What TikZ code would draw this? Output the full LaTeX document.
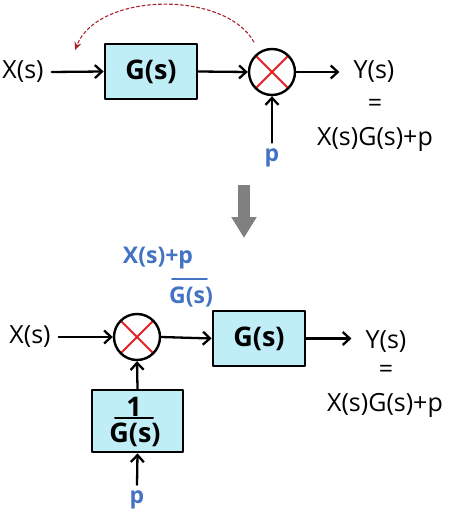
\documentclass[tikz,border=0pt]{standalone}
\usepackage{fontspec}
\setmainfont{Open Sans}
\usetikzlibrary{arrows.meta}

\begin{document}
\begin{tikzpicture}[line cap=round,line join=round,>={Straight Barb[length=7bp,width=13bp]},x=1bp,y=-1bp]
\definecolor{boxfill}{RGB}{192,238,246}
\definecolor{pblue}{RGB}{68,114,196}
\definecolor{xred}{RGB}{228,32,40}
\definecolor{dred}{RGB}{168,36,44}
\definecolor{garrow}{RGB}{128,128,128}
\tikzset{
  lbl/.style={inner xsep=8bp,inner ysep=3bp,font=\fontsize{25bp}{29bp}\selectfont},
  blok/.style={draw,line width=2.8bp,fill=boxfill,minimum width=92bp,minimum height=55bp,font=\fontsize{27bp}{32bp}\selectfont\bfseries},
  somme/.style={circle,draw,line width=2.4bp,minimum size=46bp,inner sep=0pt,
    path picture={\draw[xred,line width=2bp] (path picture bounding box.north west) -- (path picture bounding box.south east)
      (path picture bounding box.north east) -- (path picture bounding box.south west);}},
  pin/.style={text=pblue,inner sep=6bp,font=\fontsize{23bp}{27bp}\selectfont\bfseries},
  fleche/.style={->,line width=2.3bp}
}
\useasboundingbox (0,0) rectangle (450,513);
%\draw [help lines,step=50] (0,0) grid (450,513);

% haut
\node[lbl] (xa) at (23,72) {X(s)};
\node[blok] (ga) at (151,71.5) {G(s)};
\node[somme] (sa) at (272,72) {};
\node[lbl] (ya) at (374,72) {Y(s)};
\node[lbl] (ea) at (375,105) {=};
\node[lbl] (pa) at (375,139) {X(s)G(s)+p};
\node[pin] (qa) at (272,158) {p};
\draw[fleche] (xa.east) -- (ga.west);
\draw[fleche] (ga.east) -- (sa.west);
\draw[fleche,shorten >=6bp] (sa.east) -- (ya.west);
\draw[fleche] (qa.north) -- (sa.south);
\draw[dred,line width=1.1bp,dash pattern=on 3bp off 2.5bp,-{Stealth[length=8bp,width=7bp]}] ([shift={(-6,-9)}]sa.120) .. controls (225,-10) and (98,-8) .. (75,50);
\draw[garrow,line width=12bp,line cap=butt,-{Triangle[length=21bp,width=24bp]}] (244,185) -- (244,238);

% bas
\node[lbl] (xb) at (30,337) {X(s)};
\node[somme] (sb) at (137,337) {};
\node[blok] (gb) at (259,338.5) {G(s)};
\node[lbl] (yb) at (386,342) {Y(s)};
\node[lbl] (eb) at (386,371) {=};
\node[lbl] (pb) at (385,405) {X(s)G(s)+p};
\node[blok,minimum width=91bp,minimum height=62bp] (ib) at (137.5,421) {};
\node[font=\fontsize{27bp}{32bp}\selectfont\bfseries,inner sep=0pt] (ibn) at (134,407) {1};
\node[font=\fontsize{27bp}{32bp}\selectfont\bfseries,inner sep=0pt] (ibd) at (135,435) {G(s)};
\draw[line width=2bp] (115,418) -- (153,418);
\node[pin] (qb) at (137,500) {p};
\node[pin,inner sep=0pt] (nb) at (158,258) {X(s)+p};
\node[pin,inner sep=0pt] (db) at (191,297) {G(s)};
\draw[pblue,line width=1.6bp] (172,279) -- (207,279);
\draw[fleche] (xb.east) -- (sb.west);
\draw[fleche] (sb.east) -- (gb.west);
\draw[fleche,shorten >=6bp] (gb.east) -- (yb.west |- gb.east);
\draw[fleche] (ib.north) -- (sb.south);
\draw[fleche] (qb.north) -- (ib.south);
\end{tikzpicture}
\end{document}
